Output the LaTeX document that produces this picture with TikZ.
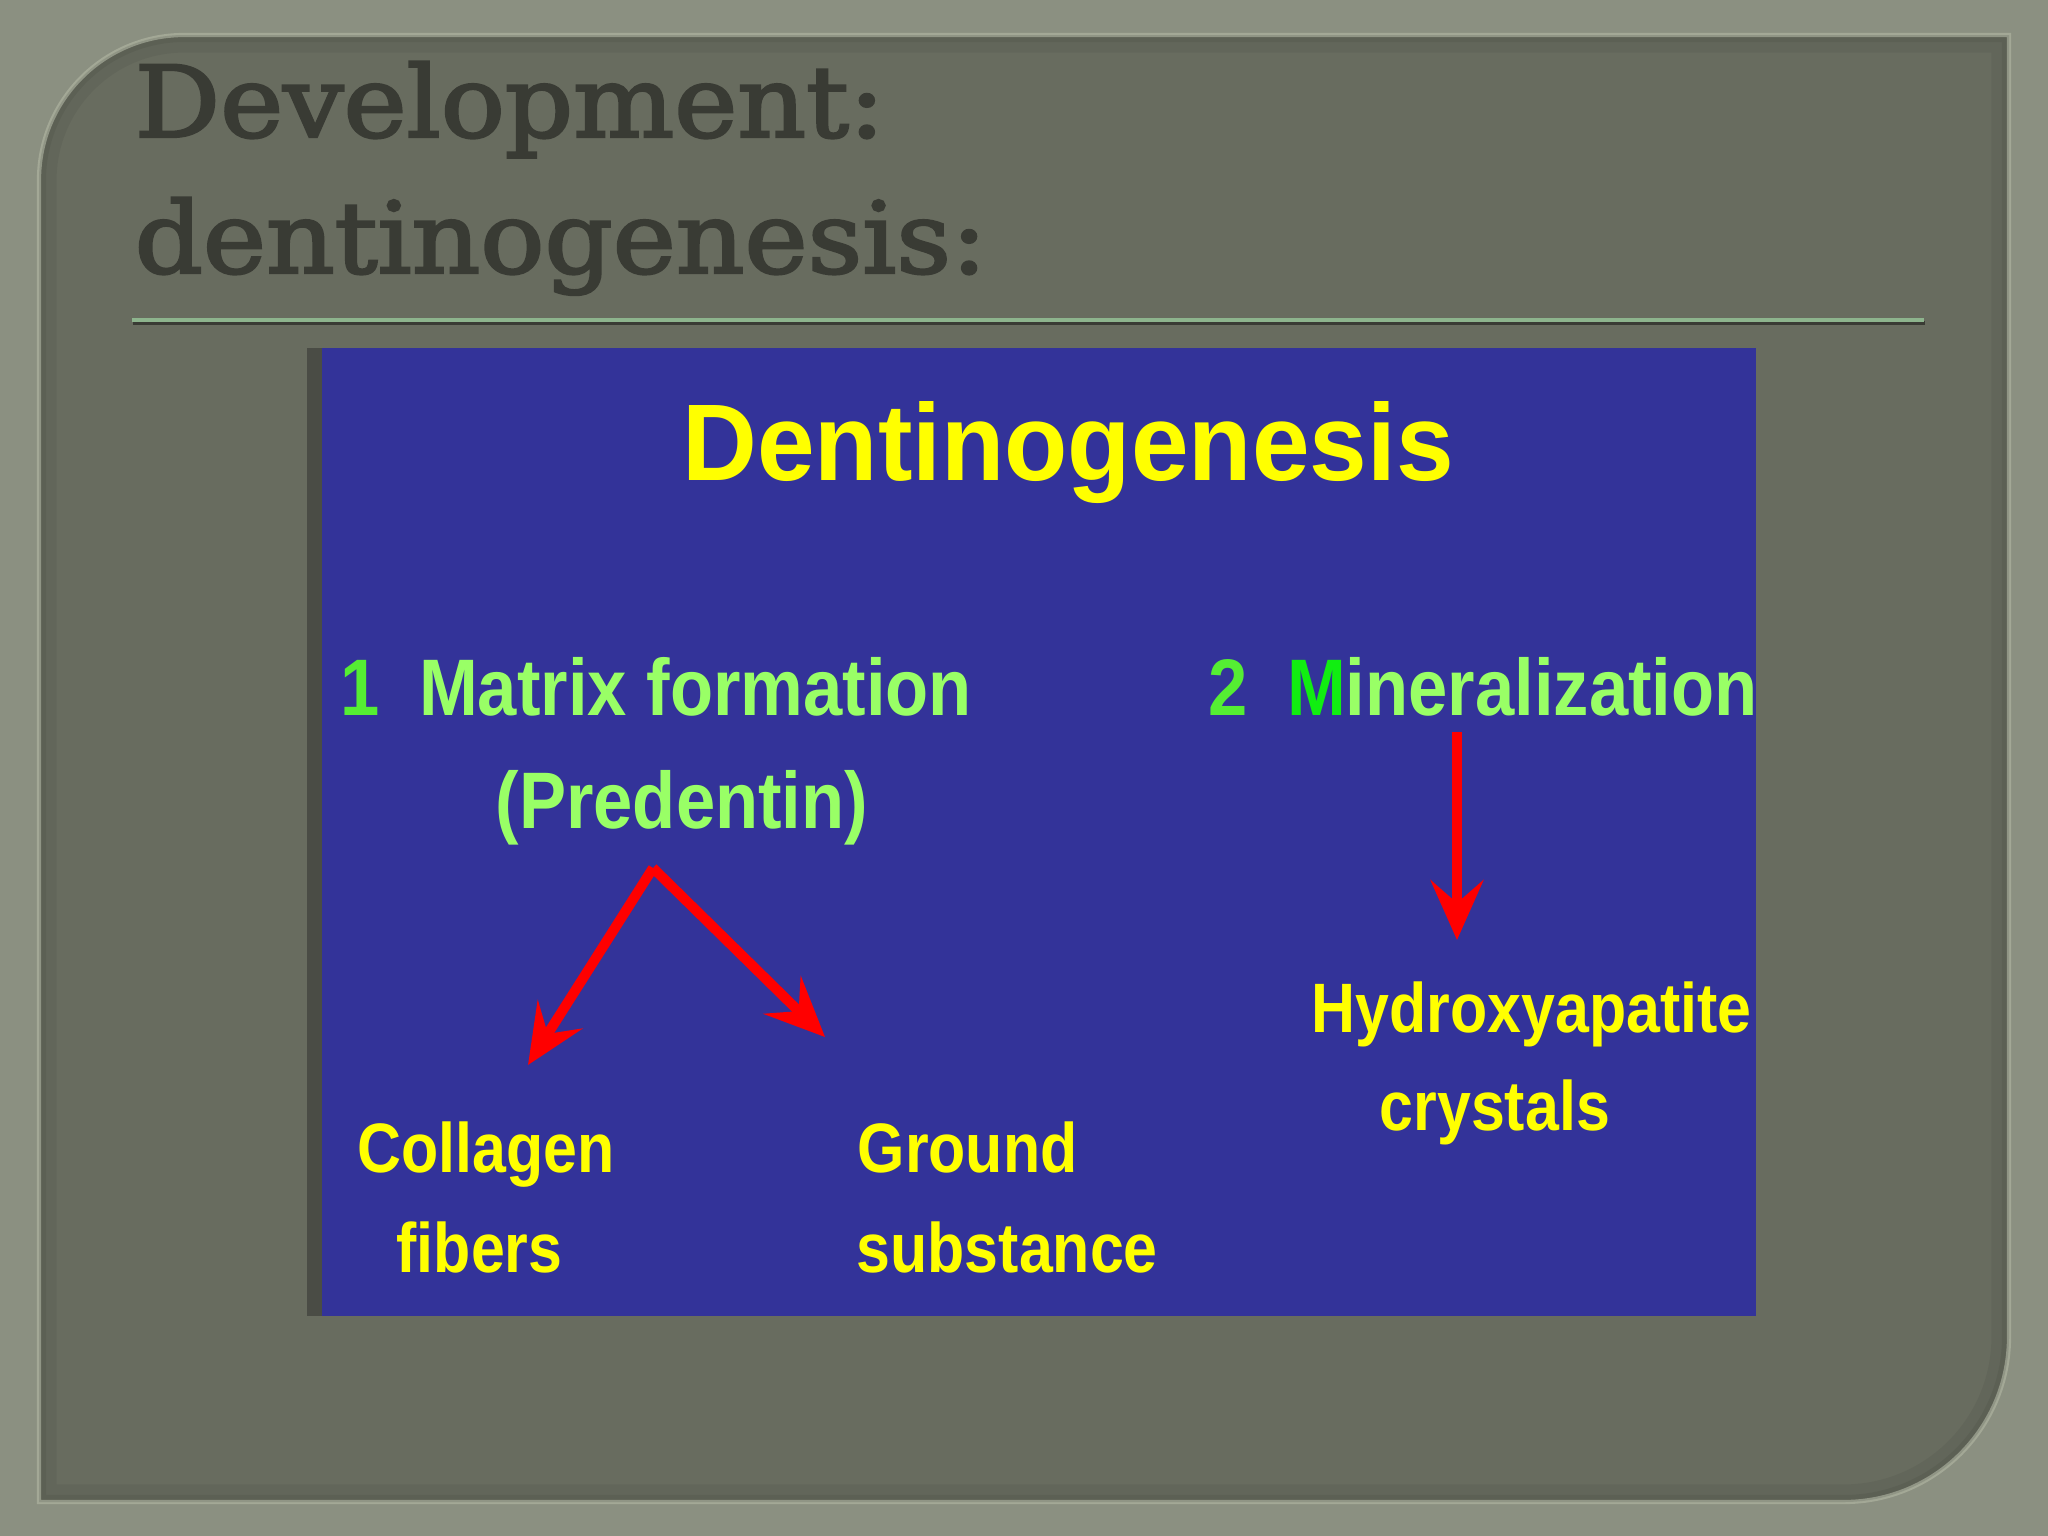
\documentclass[tikz,border=0pt]{standalone}
\usepackage{fontspec}
\usetikzlibrary{arrows.meta}
\newfontfamily\slabfont[FakeBold=2.4]{DejaVu Serif}
\newfontfamily\arialfont{Liberation Sans}
\definecolor{outerbg}{HTML}{8B9081}
\definecolor{panelbg}{HTML}{686C5F}
\definecolor{panelrim}{HTML}{A3A896}
\definecolor{titlecol}{HTML}{393B34}
\definecolor{slideblue}{HTML}{333399}
\definecolor{stripcol}{HTML}{4A4C45}
\definecolor{lgreen}{HTML}{99FF66}
\definecolor{bgreen}{HTML}{11EE11}
\definecolor{onegreen}{HTML}{55EE33}
\definecolor{yel}{HTML}{FFFF00}
\definecolor{rulecol}{HTML}{8DB48D}
\definecolor{arrowred}{HTML}{FF0000}
\newcommand\slabsx[1]{\scalebox{1.075}[1]{#1}}
\newcommand\headsx[1]{\scalebox{0.95}[1]{#1}}
\newcommand\greensx[1]{\scalebox{0.88}[1]{#1}}
\newcommand\yelsx[1]{\scalebox{0.87}[1]{#1}}
\tikzset{
  titletext/.style={anchor=base west, inner sep=0pt, text=titlecol,
    font=\slabfont\fontsize{28.2pt}{34pt}\selectfont},
  headtext/.style={anchor=base, inner sep=0pt, text=yel,
    font=\arialfont\bfseries\fontsize{31pt}{37pt}\selectfont},
  greentext/.style={anchor=base west, inner sep=0pt, text=lgreen,
    font=\arialfont\bfseries\fontsize{22.8pt}{27pt}\selectfont},
  yeltext/.style={anchor=base west, inner sep=0pt, text=yel,
    font=\arialfont\bfseries\fontsize{19.9pt}{24pt}\selectfont},
  redarrow/.style={draw=arrowred, line width=2.85pt,
    -{Stealth[length=17pt, width=15pt, inset=6.5pt]}},
}
\begin{document}
\begin{tikzpicture}[x=0.01cm, y=-0.01cm]
\useasboundingbox (0,0) rectangle (2048,1536);
% outer textured background
\fill[outerbg] (0,0) rectangle (2048,1536);
% panel
\def\panelpath{(39,1502) -- (39,180) .. controls (39,100) and (104,35) .. (184,35) -- (2009,35) -- (2009,1337) .. controls (2009,1428) and (1935,1502) .. (1844,1502) -- cycle}
\draw[panelrim, line width=1.2pt, fill=panelbg] \panelpath;
\begin{scope}
  \clip \panelpath;
  \draw[black, opacity=0.05, line width=10pt] \panelpath;
  \draw[black, opacity=0.06, line width=4pt] \panelpath;
\end{scope}
% title
\node[titletext] (t1) at (134,137) {\slabsx{Development:}};
\node[titletext] (t2) at (134,273) {\slabsx{dentinogenesis:}};
% rule
\draw[black, opacity=0.45, line width=1pt] (133,323) -- (1925,323);
\draw[rulecol, line width=1.1pt] (132,320) -- (1924,320);
% blue slide
\fill[stripcol] (307,348) rectangle (322,1316);
\fill[slideblue] (322,348) rectangle (1756,1316);
% texts
\node[headtext] (head) at (1068,480) {\headsx{Dentinogenesis}};
\node[greentext] (matrix) at (340,715) {\greensx{{\color{onegreen}1}\hspace{0.556em}Matrix formation}};
\node[greentext] (pred) at (495,828) {\greensx{(Predentin)}};
\node[greentext] (miner) at (1208,715) {\greensx{{\color{onegreen}2}\hspace{0.556em}{\color{bgreen}M}ineralization}};
\node[yeltext] (hyd) at (1311,1032) {\yelsx{Hydroxyapatite}};
\node[yeltext] (cry) at (1379,1130) {\yelsx{crystals}};
\node[yeltext] (col) at (357,1172) {\yelsx{Collagen}};
\node[yeltext] (fib) at (396,1272) {\yelsx{fibers}};
\node[yeltext] (gro) at (857,1172) {\yelsx{Ground}};
\node[yeltext] (sub) at (856,1272) {\yelsx{substance}};
% arrows
\coordinate (apex) at (653,868);
\coordinate (ltip) at (528,1065);
\coordinate (rtip) at (825,1037);
\coordinate (mtop) at (1457,732);
\coordinate (mtip) at (1457,940);
\draw[redarrow] (apex) -- (ltip);
\draw[redarrow] (apex) -- (rtip);
\draw[redarrow] (mtop) -- (mtip);
\end{tikzpicture}
\end{document}
